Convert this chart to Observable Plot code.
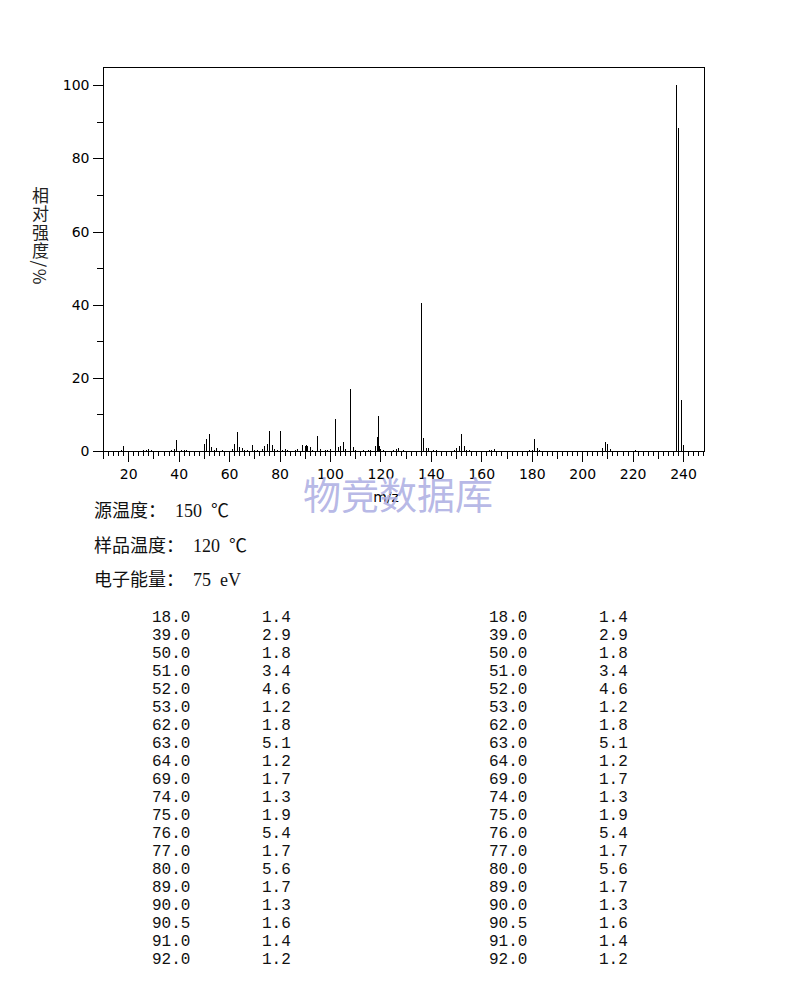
<!DOCTYPE html>
<html>
<head>
<meta charset="utf-8">
<script src="https://cdn.jsdelivr.net/npm/d3@7"></script>
<script src="https://cdn.jsdelivr.net/npm/@observablehq/plot@0.6"></script>
<style>
  body { margin: 0; background: #fff; }
  #wrap { position: relative; width: 794px; height: 992px; overflow: hidden; background: #fff; }
  #chart { position: absolute; left: 0; top: 0; }
  .ylabel { position: absolute; left: 32px; top: 187px; writing-mode: vertical-rl; font-family: "Noto Sans CJK SC", sans-serif; font-size: 17px; line-height: 17px; letter-spacing: 1.4px; color: #222; }
  .info { position: absolute; left: 94px; font-family: "Liberation Serif", "Noto Sans CJK SC", serif; font-size: 18px; line-height: 18px; color: #111; white-space: pre; }
  .cell { position: absolute; font-family: "Liberation Mono", monospace; font-size: 16px; line-height: 18px; color: #111; white-space: pre; }
</style>
</head>
<body>
<div id="wrap">
  <div id="chart"></div>
</div>
<script>
// Peak positions (m/z) and relative intensities (%)
const mz = [17, 18, 26, 27, 28, 29, 37, 38, 39, 41, 42, 43,
  50, 51, 52, 53, 54, 55, 57, 61, 62, 63, 64, 65, 66, 67, 69, 70, 71, 73,
  74, 75, 76, 77, 78, 79, 80, 81, 82, 83, 86, 87, 89, 90, 90.5, 91, 92, 93,
  95, 96, 98, 99, 100, 102, 103, 104, 105, 106, 108, 109, 110, 113, 115, 116,
  118, 118.5, 119, 119.5, 120, 121, 125, 126, 127, 129, 136, 137, 138, 139,
  141, 142, 149, 150, 151, 152, 153, 154, 155, 163, 164, 165, 179, 180, 181,
  182, 183, 208, 209, 210, 211, 221, 237, 238, 239, 240];
const intensity = [0.3, 1.4, 0.4, 0.4, 0.6, 0.3, 0.4, 0.6, 2.9, 0.3, 0.4, 0.3,
  1.8, 3.4, 4.6, 1.2, 0.3, 0.8, 0.4, 0.5, 1.8, 5.1, 1.2, 0.7, 0.4, 0.4, 1.7, 0.4, 0.4, 0.6,
  1.3, 1.9, 5.4, 1.7, 0.6, 0.4, 5.6, 0.4, 0.5, 0.3, 0.4, 0.5, 1.7, 1.3, 1.6, 1.4, 1.2, 0.4,
  4.1, 0.5, 0.3, 0.4, 0.5, 8.8, 1.1, 1.4, 2.4, 0.6, 17.0, 1.1, 0.4, 0.3, 0.3, 0.4,
  1.5, 3.9, 9.6, 1.5, 0.6, 0.4, 0.4, 0.6, 0.9, 0.4, 40.5, 3.5, 0.8, 0.8,
  0.3, 0.3, 0.4, 0.7, 1.3, 4.6, 1.5, 0.4, 0.4, 0.3, 0.4, 0.6, 0.3, 0.4, 3.3,
  0.8, 0.3, 0.7, 2.4, 2.0, 0.5, 0.3, 100, 88.4, 13.9, 1.6];

// Axis tick values
const xMajorTicks = [20, 40, 60, 80, 100, 120, 140, 160, 180, 200, 220, 240];
const xMidTicks = [10, 30, 50, 70, 90, 110, 130, 150, 170, 190, 210, 230];
const xMinorTicks = d3.range(12, 249, 2).filter(v => v % 10 !== 0);
const yMajorTicks = [0, 20, 40, 60, 80, 100];
const yMinorTicks = [10, 30, 50, 70, 90];

// Texts
const xLabel = "m/z";
const yLabel = "相对强度/%";
const watermark = "物竞数据库";
const infoLines = ["源温度：  150  ℃", "样品温度：  120  ℃", "电子能量：  75  eV"];
const tableMz = ["18.0", "39.0", "50.0", "51.0", "52.0", "53.0", "62.0", "63.0", "64.0", "69.0",
  "74.0", "75.0", "76.0", "77.0", "80.0", "89.0", "90.0", "90.5", "91.0", "92.0"];
const tableInt = ["1.4", "2.9", "1.8", "3.4", "4.6", "1.2", "1.8", "5.1", "1.2", "1.7",
  "1.3", "1.9", "5.4", "1.7", "5.6", "1.7", "1.3", "1.6", "1.4", "1.2"];

const peaks = mz.map((m, i) => ({mz: m, value: intensity[i]}));
const blank = () => "";

const chart = Plot.plot({
  width: 794,
  height: 520,
  marginLeft: 103,
  marginRight: 90,
  marginTop: 67,
  marginBottom: 69,
  style: {fontFamily: "DejaVu Sans, sans-serif", fontSize: "14px", color: "#000", background: "transparent", overflow: "visible"},
  x: {domain: [10, 248.3]},
  y: {domain: [0, 105]},
  marks: [
    Plot.ruleX(peaks, {x: "mz", y1: 0, y2: "value", stroke: "#000", strokeWidth: 1, shapeRendering: "crispEdges"}),
    Plot.frame({stroke: "#000", strokeWidth: 1, shapeRendering: "crispEdges"}),
    Plot.axisX(xMinorTicks, {tickSize: 5, tickFormat: blank, label: null, stroke: "#000", shapeRendering: "crispEdges"}),
    Plot.axisX(xMidTicks, {tickSize: 7.5, tickFormat: blank, label: null, stroke: "#000", shapeRendering: "crispEdges"}),
    Plot.axisX(xMajorTicks, {tickSize: 11, tickPadding: 7, label: null, stroke: "#000", fill: "#000", fontSize: 14, shapeRendering: "crispEdges"}),
    Plot.axisY(yMinorTicks, {tickSize: 6, tickFormat: blank, label: null, stroke: "#000", shapeRendering: "crispEdges"}),
    Plot.axisY(yMajorTicks, {tickSize: 10, tickPadding: 4, label: null, stroke: "#000", fill: "#000", fontSize: 14, shapeRendering: "crispEdges"}),
    Plot.text([xLabel], {text: d => d, frameAnchor: "bottom", dy: 50, dx: -18, fontSize: 14, fill: "#000"}),
    Plot.text([watermark], {text: d => d, frameAnchor: "bottom", dy: 57, dx: -6, fontSize: 38, fill: "#aeb0e3", fillOpacity: 0.9, fontFamily: "Noto Sans CJK SC, sans-serif"})
  ]
});
document.getElementById("chart").appendChild(chart);

const wrap = document.getElementById("wrap");
const yl = document.createElement("div");
yl.className = "ylabel";
yl.textContent = yLabel;
wrap.appendChild(yl);

const infoTops = [502, 537, 571];
infoLines.forEach((t, i) => {
  const d = document.createElement("div");
  d.className = "info";
  d.style.top = infoTops[i] + "px";
  d.textContent = t;
  wrap.appendChild(d);
});

const colX = [152, 262, 489, 599];
tableMz.forEach((m, i) => {
  const top = 609 + i * 18;
  [m, tableInt[i], m, tableInt[i]].forEach((t, j) => {
    const d = document.createElement("div");
    d.className = "cell";
    d.style.left = colX[j] + "px";
    d.style.top = top + "px";
    d.textContent = t;
    wrap.appendChild(d);
  });
});
</script>
</body>
</html>
